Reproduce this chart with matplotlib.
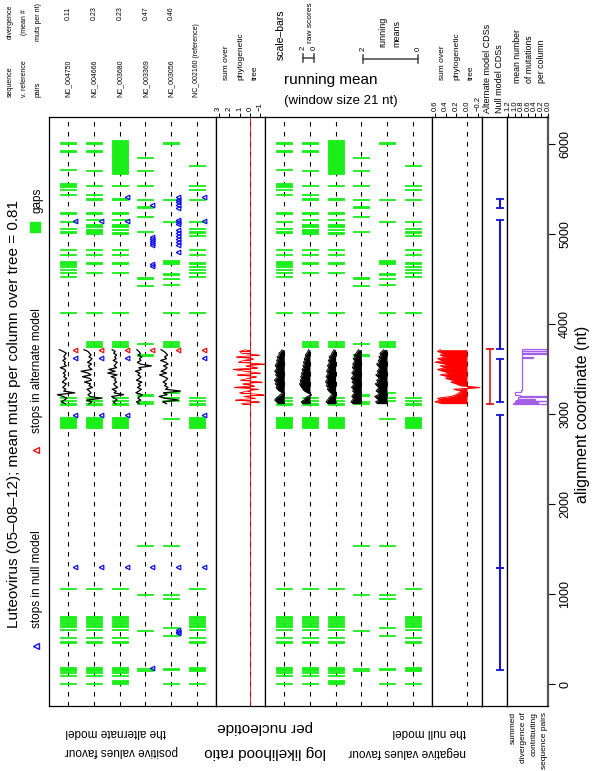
import numpy as np
import matplotlib
matplotlib.use("Agg")
import matplotlib.pyplot as plt
from matplotlib.patches import Rectangle
from matplotlib.lines import Line2D

plt.rcParams['font.family'] = ['Liberation Sans', 'DejaVu Sans']

# -----------------------------------------
# DATA
# -----------------------------------------
SEQ_NAMES = ["NC_004750", "NC_004666", "NC_003680", "NC_003369", "NC_003056",
             "NC_002160 (reference)"]
DIVERGENCE = ["0.11", "0.23", "0.23", "0.47", "0.46", ""]

# gaps (start, end) in alignment coordinates, one list per sequence
GAPS_1 = [(6005, 6017), (5916, 5928), (5712, 5724), (5520, 5565), (5486, 5498), (5435, 5447),
          (5222, 5245), (5138, 5150), (5053, 5065), (5016, 5028), (4822, 4838), (4768, 4780),
          (4660, 4705), (4638, 4650), (4601, 4613), (4564, 4576), (4520, 4532), (4120, 4132),
          (3179, 3191), (3142, 3154), (3105, 3117), (2850, 2970), (1057, 1069), (731, 751),
          (701, 721), (671, 691), (634, 654), (597, 617), (513, 525), (455, 482), (150, 185),
          (124, 136), (87, 99), (1, 13)]
GAPS_2 = [(6005, 6017), (5912, 5932), (5701, 5713), (5531, 5543), (5435, 5447), (5375, 5395),
          (5222, 5245), (5160, 5172), (5094, 5106), (5074, 5086), (5044, 5056), (5027, 5039),
          (5005, 5017), (4824, 4836), (4768, 4780), (4664, 4684), (4568, 4580), (4120, 4132),
          (3801, 3813), (3779, 3791), (3750, 3762), (3179, 3191), (3142, 3154), (3105, 3117),
          (2850, 2970), (1057, 1069), (731, 751), (701, 721), (671, 691), (634, 654), (597, 617),
          (513, 525), (455, 482), (150, 185), (124, 136), (87, 99), (1, 13)]
GAPS_3 = [(5663, 6048), (5531, 5543), (5375, 5395), (5222, 5245), (5160, 5172), (5094, 5106),
          (5074, 5086), (5044, 5056), (5005, 5017), (4824, 4836), (4768, 4780), (4664, 4684),
          (4568, 4580), (4120, 4132), (3801, 3813), (3779, 3791), (3750, 3762), (3179, 3191),
          (3142, 3154), (3105, 3117), (2850, 2970), (1057, 1069), (731, 751), (701, 721),
          (671, 691), (634, 654), (597, 617), (513, 525), (455, 482), (150, 185), (124, 136),
          (87, 99), (-4, 44)]
GAPS_4 = [(5849, 5861), (5701, 5713), (5531, 5543), (5379, 5391), (5294, 5306), (5190, 5202),
          (5024, 5036), (4495, 4520), (4427, 4439), (3779, 3791), (3650, 3662), (3205, 3217),
          (3131, 3143), (3113, 3125), (1538, 1550), (990, 1002), (590, 602), (164, 176),
          (142, 154)]
GAPS_5 = [(6005, 6017), (5375, 5387), (5138, 5150), (4665, 4711), (4550, 4562), (4501, 4513),
          (4438, 4450), (4120, 4132), (3801, 3813), (3779, 3791), (3750, 3762), (3235, 3247),
          (3180, 3192), (3140, 3152), (2946, 2958), (1538, 1550), (990, 1002), (942, 954),
          (627, 639), (531, 543), (161, 173), (1, 13)]
GAPS_6 = [(5757, 5769), (5531, 5543), (5486, 5498), (5375, 5387), (5138, 5150), (5053, 5065),
          (5016, 5028), (4979, 4991), (4824, 4836), (4768, 4780), (4664, 4684), (4638, 4650),
          (4601, 4613), (4564, 4576), (4520, 4532), (4120, 4132), (3179, 3191), (3142, 3154),
          (3105, 3117), (2850, 2970), (1057, 1069), (731, 751), (701, 721), (671, 691),
          (634, 654), (597, 617), (513, 525), (455, 482), (150, 185), (1, 13)]

# stop codons
NULL_STOPS_1 = [5144, 3619, 2989, 1296]
NULL_STOPS_2 = [5144, 3619, 2989, 1296]
NULL_STOPS_3 = [5411, 5144, 3619, 2989, 1296]
NULL_STOPS_4 = [5319, 4967, 4945, 4922, 4900, 4878, 4672, 4648, 1296, 174]
NULL_STOPS_5 = [5411, 5381, 5352, 5322, 5292, 5159, 5137, 5115, 5040, 5010, 4978, 4945,
                4912, 4880, 4800, 1296, 600, 582, 563]
NULL_STOPS_6 = [5411, 5144, 3619, 2989, 1296]
ALT_STOPS = [3711]

# per-nucleotide scores across the alternate-model region
TRACE_POS = [3115, 3135, 3155, 3175, 3195, 3215, 3235, 3255, 3275, 3295, 3315, 3335, 3355,
             3375, 3395, 3415, 3435, 3455, 3475, 3495, 3515, 3535, 3555, 3575, 3595, 3615,
             3635, 3655, 3675, 3695, 3715]
ALT_RAW_1 = [0.6, 1.4, 0.8, 0.3, 1.0, 2.2, -1.3, 0.9, 0.5, 1.1, 0.7, 0.4, 1.2, 0.8, 0.3, 0.9,
             0.6, 1.0, 0.5, 0.7, 1.6, 0.4, 0.8, 0.6, 1.1, 0.5, 0.9, 0.7, 0.4, 1.0, 1.8]
ALT_RAW_2 = [1.0, 0.4, 1.5, -1.5, 0.8, 1.2, 0.6, 0.9, 1.4, 0.3, 1.0, 0.7, 1.9, 0.5, 0.8, 2.3,
             0.6, 1.2, 2.6, 0.4, 0.9, 1.1, 0.5, 1.3, 0.7, 0.4, 1.0, 0.6, 0.9, 1.2, 2.0]
ALT_RAW_3 = [0.8, 1.3, 0.5, 1.0, 1.6, -0.8, 1.1, 0.7, 1.5, 0.4, 0.9, 1.2, 0.6, 1.0, 0.8, 1.7,
             0.5, 2.4, 0.9, 2.2, 0.6, 1.1, 0.8, 0.5, 1.3, 0.7, 1.0, 0.6, 1.2, 0.9, 1.5]
ALT_RAW_4 = [1.2, 1.8, 0.9, 1.5, 1.1, 0.6, 1.9, 1.3, 0.8, 1.6, 1.0, 1.4, 0.7, 1.8, 1.2, 0.9,
             1.5, 1.1, 2.0, 0.8, 1.3, -1.2, 1.0, 1.6, 0.9, 1.2, 0.7, 1.4, 1.0, 1.3, 1.7]
ALT_RAW_5 = [0.9, 1.7, -1.5, 1.2, 2.4, 0.8, 1.5, -1.9, 1.1, 0.6, 1.3, 0.9, 1.6, 1.0, 0.7, 1.4,
             2.3, 0.9, 2.0, 1.2, 0.8, 1.5, 0.6, 1.1, 2.1, 0.9, 1.3, 0.7, 1.0, 1.4, 2.0]

NULL_MEAN_1 = [0.20, 0.28, 0.35, 0.30, 0.22, 0.15, 0.05, 0.18, 0.25, 0.30, 0.26, 0.33, 0.28,
               0.36, 0.30, 0.25, 0.32, 0.28, 0.35, 0.30, 0.27, 0.33, 0.30, 0.25, 0.28, 0.22,
               0.26, 0.18, 0.20, 0.12, 0.08]
NULL_MEAN_2 = [0.25, 0.32, 0.22, 0.18, 0.10, -0.06, 0.08, 0.20, 0.26, 0.30, 0.35, 0.38, 0.33,
               0.36, 0.30, 0.34, 0.28, 0.31, 0.25, 0.29, 0.22, 0.26, 0.20, 0.24, 0.18, 0.21,
               0.15, 0.17, 0.12, 0.08, 0.05]
NULL_MEAN_3 = [0.28, 0.35, 0.30, 0.24, 0.20, 0.12, 0.18, 0.25, 0.30, 0.27, 0.34, 0.30, 0.37,
               0.33, 0.29, 0.35, 0.31, 0.27, 0.33, 0.29, 0.25, 0.30, 0.26, 0.22, 0.27, 0.20,
               0.24, 0.17, 0.14, 0.10, 0.06]
NULL_MEAN_4 = [0.30, 0.38, 0.33, 0.28, 0.35, 0.30, 0.25, 0.32, 0.28, 0.36, 0.31, 0.27, 0.34,
               0.29, 0.37, 0.32, 0.28, 0.35, 0.30, 0.26, 0.33, 0.29, 0.31, 0.27, 0.24, 0.30,
               0.22, 0.26, 0.19, 0.15, 0.10]
NULL_MEAN_5 = [0.35, 0.42, 0.30, 0.38, 0.45, 0.33, 0.28, 0.40, 0.35, 0.30, 0.37, 0.43, 0.32,
               0.38, 0.29, 0.34, 0.41, 0.30, 0.36, 0.31, 0.27, 0.33, 0.38, 0.28, 0.32, 0.25,
               0.30, 0.22, 0.26, 0.18, 0.12]

ALT_SUM = [0.8, -0.9, 1.4, -0.5, 0.6, -1.3, 1.0, 0.3, -0.8, 1.5, -0.4, 0.7, -1.1, 0.9, 0.2,
           -0.6, 1.2, -1.0, 0.5, 1.6, -0.7, 0.4, -1.4, 1.1, 0.6, -0.3, 1.3, -0.9, 0.8, 1.0, 0.4]
NULL_SUM = [0.45, 0.60, 0.50, 0.55, 0.30, 0.20, 0.15, 0.10, 0.25, -0.24, 0.12, 0.20, 0.30,
            0.25, 0.40, 0.35, 0.50, 0.30, 0.45, 0.55, 0.40, 0.50, 0.35, 0.60, 0.45, 0.55,
            0.40, 0.50, 0.45, 0.55, 0.50]

ALT_CDS = [(3111, 3722)]
NULL_CDS = [(156, 1289), (1289, 2989), (3133, 3611), (3722, 5156), (5285, 5390)]

MUT_EDGES = [3111, 3120, 3128, 3140, 3150, 3160, 3172, 3185, 3200, 3211, 3240, 3267, 3622,
             3628, 3670, 3676, 3696, 3702, 3722]
MUT_VALUES = [1.05, 0.30, 1.00, 0.00, 0.95, 0.40, 0.90, 0.00, 0.85, 1.00, 0.80, 0.78, 0.45,
              0.78, 0.00, 0.78, 0.00, 0.78]

COORD_TICKS = [0, 1000, 2000, 3000, 4000, 5000, 6000]
SUM1_TICKS = [3, 2, 1, 0, -1]
SUM2_TICKS = [0.6, 0.4, 0.2, 0.0, -0.2]
MUT_TICKS = [1.2, 1.0, 0.8, 0.6, 0.4, 0.2, 0.0]

# -----------------------------------------
# LAYOUT
# -----------------------------------------
W, H = 600, 771
TOP, BOT = 117, 706
YLIM = (-244, 6300)
GREEN = "#19ee19"
PURPLE = "#a25ee8"
DASH = (0, (4, 5))
RAW_PX = 5.0     # pixels per raw-score unit
MEAN_PX = 27.5   # pixels per running-mean unit
ROW_PX = 25.8

fig = plt.figure(figsize=(W / 100, H / 100), dpi=100)


def panel(x0, x1):
    ax = fig.add_axes([x0 / W, 1 - BOT / H, (x1 - x0) / W, (BOT - TOP) / H])
    ax.set_ylim(YLIM)
    ax.set_yticks([])
    for s in ax.spines.values():
        s.set_linewidth(0.9)
    return ax


def T(px, py, s, **kw):
    kw.setdefault("rotation", 90)
    kw.setdefault("ha", "center")
    kw.setdefault("va", "bottom")
    fig.text(px / W, 1 - py / H, s, **kw)


def mark(px, py, **kw):
    fig.add_artist(Line2D([px / W], [1 - py / H], transform=fig.transFigure, **kw))


def seg(xs, ys, **kw):
    fig.add_artist(Line2D([x / W for x in xs], [1 - y / H for y in ys],
                          transform=fig.transFigure, **kw))


ax_alt = panel(49, 216)
ax_sum1 = panel(216, 265)
ax_null = panel(265, 432)
ax_sum2 = panel(432, 482)
ax_cds = panel(482, 507)
ax_mut = panel(507, 548)

gaps = [GAPS_1, GAPS_2, GAPS_3, GAPS_4, GAPS_5, GAPS_6]
null_stops = [NULL_STOPS_1, NULL_STOPS_2, NULL_STOPS_3, NULL_STOPS_4, NULL_STOPS_5, NULL_STOPS_6]
alt_raw = [ALT_RAW_1, ALT_RAW_2, ALT_RAW_3, ALT_RAW_4, ALT_RAW_5]
null_mean = [NULL_MEAN_1, NULL_MEAN_2, NULL_MEAN_3, NULL_MEAN_4, NULL_MEAN_5]


def draw_tracks(ax, traces, scale, show_stops):
    ax.set_xlim(-0.75, len(SEQ_NAMES) - 0.25)
    ax.set_xticks([])
    for i in range(len(SEQ_NAMES)):
        ax.axvline(i, color="k", lw=0.8, ls=DASH, zorder=1)
        for s, e in gaps[i]:
            ax.add_patch(Rectangle((i - 0.31, s), 0.62, e - s, facecolor=GREEN,
                                   edgecolor=GREEN, lw=0.6, zorder=2))
        if i < len(traces):
            v = np.array(traces[i]) * scale
            if show_stops:
                ax.plot(i - v, TRACE_POS, color="k", lw=0.9, zorder=4)
            else:
                ax.fill_betweenx(TRACE_POS, i, i - v, color="k", lw=0, zorder=4)
                ax.plot(i - v, TRACE_POS, color="k", lw=0.7, zorder=4)
        if show_stops:
            ax.plot([i + 0.27] * len(null_stops[i]), null_stops[i], ls="none", marker="<",
                    mfc="none", mec="#1010ee", ms=3.3, mew=0.9, zorder=5)
            ax.plot([i + 0.27] * len(ALT_STOPS), ALT_STOPS, ls="none", marker="<",
                    mfc="none", mec="#ee1010", ms=3.3, mew=0.9, zorder=5)


draw_tracks(ax_alt, alt_raw, RAW_PX / ROW_PX, True)
draw_tracks(ax_null, null_mean, MEAN_PX / ROW_PX, False)

# summed log likelihood ratio panels
ax_sum1.set_xlim(3.24, -1.43)
ax_sum1.axvline(0, color="k", lw=0.8, ls=DASH, zorder=1)
ax_sum1.axvline(0, color="red", lw=0.6, zorder=2)
ax_sum1.hlines(TRACE_POS, 0, ALT_SUM, color="red", lw=0.8, zorder=3)
ax_sum1.plot(ALT_SUM, TRACE_POS, color="red", lw=0.6, zorder=3)

ax_sum2.set_xlim(0.654, -0.28)
ax_sum2.axvline(0, color="k", lw=0.8, ls=DASH, zorder=1)
ax_sum2.fill_betweenx(TRACE_POS, 0, NULL_SUM, color="red", lw=0, zorder=2)
ax_sum2.plot(NULL_SUM, TRACE_POS, color="red", lw=0.7, zorder=3)

for ax, ticks in [(ax_sum1, SUM1_TICKS), (ax_sum2, SUM2_TICKS), (ax_mut, MUT_TICKS)]:
    ax.xaxis.tick_top()
    ax.set_xticks(ticks)
    fmt = "{:.0f}" if ax is ax_sum1 else "{:.1f}"
    ax.set_xticklabels([fmt.format(t).replace("-", "\u2212") for t in ticks])
    ax.tick_params(axis="x", labelrotation=90, labelsize=5.5, length=3, width=0.7, pad=1)

# CDS panel
ax_cds.set_xlim(0, 1)
ax_cds.set_xticks([])
for s, e in ALT_CDS:
    ax_cds.plot([0.32, 0.32], [s, e], color="#e01818", lw=1.2, marker="_", ms=6, mew=1.3)
for s, e in NULL_CDS:
    ax_cds.plot([0.72, 0.72], [s, e], color="#1818d0", lw=1.5, marker="_", ms=6, mew=1.3)

# mean mutations per column
ax_mut.set_xlim(1.23, 0)
ax_mut.stairs(MUT_VALUES, MUT_EDGES, orientation="horizontal", baseline=0,
              color=PURPLE, lw=0.9)
ax_mut.yaxis.tick_right()
ax_mut.set_yticks(COORD_TICKS)
ax_mut.set_yticklabels([str(c) for c in COORD_TICKS])
ax_mut.tick_params(axis="y", labelrotation=90, labelsize=9, length=5, width=0.8, pad=3)
for lab in ax_mut.get_yticklabels():
    lab.set_va("center")
ax_mut.spines["right"].set_linewidth(1.6)
ax_mut.spines["right"].set_color("#555555")

# -----------------------------------------
# TEXT
# -----------------------------------------
T(14, 414, "Luteovirus (05\u201308\u201312); mean muts per column over tree = 0.81",
  fontsize=11, va="center")
mark(36, 646, marker="<", mfc="none", mec="#1010ee", ms=4.5, mew=1)
T(37, 628, "stops in null model", fontsize=8.5)
mark(36, 450, marker="<", mfc="none", mec="#ee1010", ms=4.5, mew=1)
T(37, 433, "stops in alternate model", fontsize=8.5)
mark(35, 227, marker="s", mfc=GREEN, mec=GREEN, ms=6.5)
T(37, 213, "gaps", fontsize=8.5)

for px, s in [(10, "sequence"), (24, "v. reference"), (38, "pairs")]:
    T(px, 97, s, fontsize=5)
for px, s in [(10, "divergence"), (24, "(mean #"), (38, "muts per nt)")]:
    T(px, 22, s, fontsize=5, va="center")
row_px = [68, 94, 120, 146, 171, 197]
for px, name, div in zip(row_px, SEQ_NAMES, DIVERGENCE):
    T(px, 97, name, fontsize=5)
    T(px, 20, div, fontsize=5)

for x0 in (227, 443):
    for k, s in enumerate(["sum over", "phylogenetic", "tree"]):
        T(x0 + 14 * k, 80, s, fontsize=6)

T(281, 60, "scale\u2013bars", fontsize=7.5)
T(284, 80, "running mean", rotation=0, ha="left", va="center", fontsize=11)
T(284, 101, "(window size 21 nt)", rotation=0, ha="left", va="center", fontsize=9.5)

# scale bars (2 units each)
for x0, px_per, y0 in [(303, 5.5, 58), (363, MEAN_PX, 59)]:
    x1 = x0 + 2 * px_per
    seg([x0, x1], [y0, y0], color="#444444", lw=1.1)
    seg([x0, x0], [y0 - 4, y0 + 4], color="#444444", lw=1.1)
    seg([x1, x1], [y0 - 4, y0 + 4], color="#444444", lw=1.1)
    T(x0, y0 - 8, "2", fontsize=5.5)
    T(x1, y0 - 8, "0", fontsize=5.5)
T(311, 43, "raw scores", fontsize=6)
T(383, 47, "running", fontsize=6.5)
T(397, 47, "means", fontsize=6.5)

T(488, 113, "Alternate model CDSs", fontsize=6.5)
T(500, 113, "Null model CDSs", fontsize=6.5)
for k, s in enumerate(["mean number", "of mutations", "per column"]):
    T(518 + 12 * k, 83, s, fontsize=6.3)

T(583, 414, "alignment coordinate (nt)", fontsize=11.5, va="center")

T(65, 732, "the alternate model", rotation=180, ha="left", va="center", fontsize=8.5)
T(65, 751, "positive values favour", rotation=180, ha="left", va="center", fontsize=8.5)
T(265, 727, "per nucleotide", rotation=180, va="center", fontsize=11)
T(265, 752, "log likelihood ratio", rotation=180, va="center", fontsize=11)
T(466, 732, "the null model", rotation=180, ha="right", va="center", fontsize=8.5)
T(466, 752, "negative values favour", rotation=180, ha="right", va="center", fontsize=8.5)
for k, s in enumerate(["summed", "divergence of", "contributing", "sequence pairs"]):
    T(513 + 10.5 * k, 712, s, va="top", fontsize=6)

fig.savefig("out.png", dpi=100)
